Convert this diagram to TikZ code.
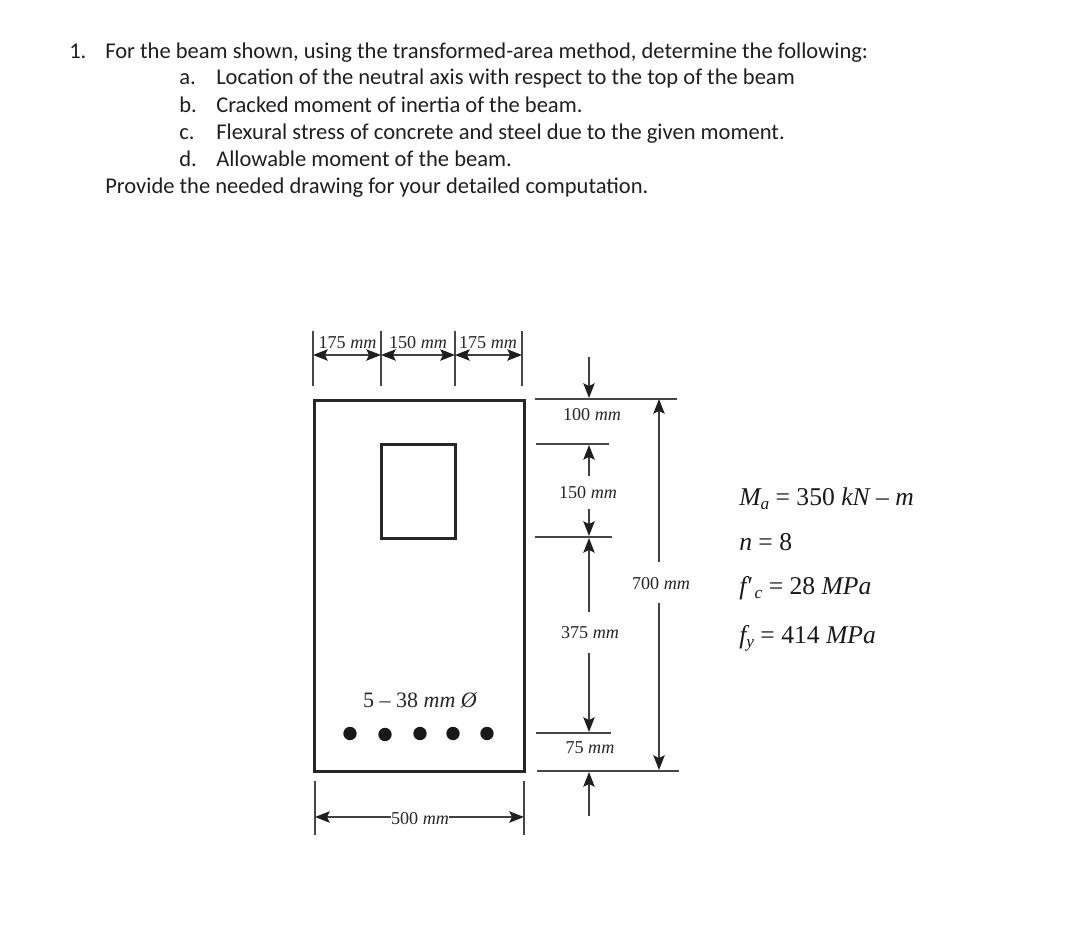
\documentclass[tikz,border=0pt]{standalone}
\usepackage{fontspec}
\setmainfont{Carlito}
\newfontfamily\mfont{Liberation Serif}
\usetikzlibrary{arrows.meta}
\newcommand{\mi}[1]{{\mfont\itshape #1}}
\newcommand{\lowsub}[1]{\raisebox{-0.4ex}{\fontsize{13pt}{15pt}\selectfont #1}}
\tikzset{
  x=0.75pt,y=-0.75pt,
  prose/.style={anchor=base west,inner sep=0pt,font=\fontsize{16.9pt}{20pt}\selectfont,text=black!88},
  dimlab/.style={inner sep=0pt,font=\mfont\fontsize{13.6pt}{16pt}\selectfont,text=black!85},
  given/.style={anchor=base west,inner sep=0pt,font=\mfont\fontsize{19.2pt}{22pt}\selectfont,text=black!90},
  ext/.style={draw=black!72,line width=1.125pt},
  dimline/.style={draw=black!75,line width=1.125pt,-{Stealth[length=11pt,width=8.5pt,inset=2pt,black!88]}},
  dimboth/.style={draw=black!75,line width=1pt,{Stealth[length=11pt,width=8.5pt,inset=2pt,black!88]}-{Stealth[length=11pt,width=8.5pt,inset=2pt,black!88]}},
  outline/.style={draw=black!85,line width=2.25pt},
  rebar/.style={circle,fill=black!90,minimum size=10pt,inner sep=0pt},
}
\begin{document}
\begin{tikzpicture}
\useasboundingbox (0,0) rectangle (1080,941);
% problem text
\node[prose] (n1) at (69,59) {1.};
\node[prose] (t1) at (105,59) {For the beam shown, using the transformed-area method, determine the following:};
\node[prose] (la) at (179,85) {a.};
\node[prose] (ta) at (216,85) {Location of the neutral axis with respect to the top of the beam};
\node[prose] (lb) at (179,113) {b.};
\node[prose] (tb) at (216,113) {Cracked moment of inertia of the beam.};
\node[prose] (lc) at (179,140) {c.};
\node[prose] (tc) at (216,140) {Flexural stress of concrete and steel due to the given moment.};
\node[prose] (ld) at (179,167) {d.};
\node[prose] (td) at (216,167) {Allowable moment of the beam.};
\node[prose] (t2) at (105,194) {Provide the needed drawing for your detailed computation.};
% section
\draw[outline] (314,400) rectangle (524,771);
\draw[outline] (381,444) rectangle (455,538);
\node[rebar] (b1) at (350,733.5) {};
\node[rebar] (b2) at (385,734.5) {};
\node[rebar] (b3) at (420,733.5) {};
\node[rebar] (b4) at (453,733.5) {};
\node[rebar] (b5) at (487,733.5) {};
\node[dimlab,font=\mfont\fontsize{16.5pt}{19pt}\selectfont] (bars) at (420,700) {5 – 38 \mi{mm Ø}};
% top dimensions
\foreach \n/\x in {a/313,b/381,c/455,d/522}{
  \coordinate (u\n1) at (\x,331);
  \coordinate (u\n2) at (\x,386);
  \coordinate (u\n) at (\x,355);
  \draw[ext] (u\n1) -- (u\n2);
}
\draw[dimboth] (ua) -- (ub);
\draw[dimboth] (ub) -- (uc);
\draw[dimboth] (uc) -- (ud);
\node[dimlab] (l175a) at (347.5,343) {175 \mi{mm}};
\node[dimlab] (l150) at (418,343) {150 \mi{mm}};
\node[dimlab] (l175b) at (488,343) {175 \mi{mm}};
% bottom dimension
\coordinate (bl1) at (315,781); \coordinate (bl2) at (315,835);
\coordinate (br1) at (524,781); \coordinate (br2) at (524,835);
\coordinate (bl) at (315,817); \coordinate (br) at (524,817);
\draw[ext] (bl1) -- (bl2);
\draw[ext] (br1) -- (br2);
\node[dimlab] (l500) at (420,819) {500 \mi{mm}};
\draw[dimline] (l500.west |- bl) -- (bl);
\draw[dimline] (l500.east |- br) -- (br);
% right extension lines
\coordinate (h1a) at (535,399); \coordinate (h1b) at (677,399);
\coordinate (h2a) at (536,444); \coordinate (h2b) at (609,444);
\coordinate (h3a) at (535,537); \coordinate (h3b) at (612,537);
\coordinate (h4a) at (536,733); \coordinate (h4b) at (611,733);
\coordinate (h5a) at (537,771); \coordinate (h5b) at (679,771);
\draw[ext] (h1a) -- (h1b);
\draw[ext] (h2a) -- (h2b);
\draw[ext] (h3a) -- (h3b);
\draw[ext] (h4a) -- (h4b);
\draw[ext] (h5a) -- (h5b);
% vertical chain
\coordinate (a1s) at (589,357); \coordinate (a1e) at (589,398);
\coordinate (a2s) at (589,476); \coordinate (a2e) at (589,445);
\coordinate (a3s) at (589,509); \coordinate (a3e) at (589,536);
\coordinate (a4s) at (589,612); \coordinate (a4e) at (589,538);
\coordinate (a5s) at (589,653); \coordinate (a5e) at (589,732);
\coordinate (a6s) at (589,816); \coordinate (a6e) at (589,772);
\draw[dimline] (a1s) -- (a1e);
\draw[dimline] (a2s) -- (a2e);
\draw[dimline] (a3s) -- (a3e);
\draw[dimline] (a4s) -- (a4e);
\draw[dimline] (a5s) -- (a5e);
\draw[dimline] (a6s) -- (a6e);
\node[dimlab] (l100) at (592,415) {100 \mi{mm}};
\node[dimlab] (l150r) at (588,493) {150 \mi{mm}};
\node[dimlab] (l375) at (590,633) {375 \mi{mm}};
\node[dimlab] (l75) at (590,748) {75 \mi{mm}};
% overall
\coordinate (o1s) at (659,562); \coordinate (o1e) at (659,399);
\coordinate (o2s) at (659,603); \coordinate (o2e) at (659,770);
\draw[dimline] (o1s) -- (o1e);
\draw[dimline] (o2s) -- (o2e);
\node[dimlab] (l700) at (661,584) {700 \mi{mm}};
% given values
\node[given] (g1) at (739,505) {\mi{M\lowsub{a}} = 350 \mi{kN} – \mi{m}};
\node[given] (g2) at (739,550) {\mi{n} = 8};
\node[given] (g3) at (739,594) {\mi{f}\kern1pt′\kern1pt\lowsub{\mi{c}} = 28 \mi{MPa}};
\node[given] (g4) at (739,643) {\mi{f\lowsub{y}} = 414 \mi{MPa}};
\end{tikzpicture}
\end{document}
